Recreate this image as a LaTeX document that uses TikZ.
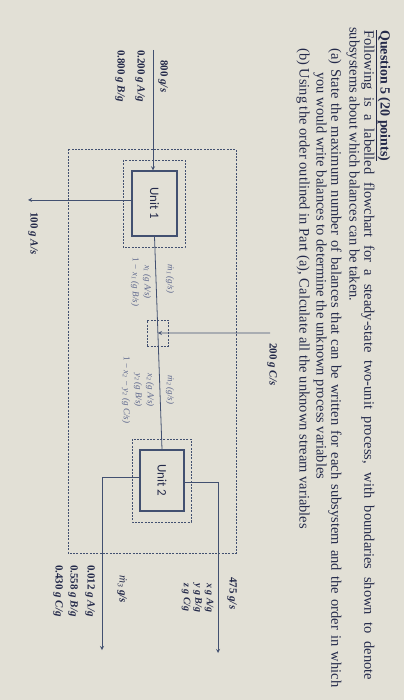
\documentclass[tikz,border=0pt]{standalone}
\usepackage{fontspec}
\setmainfont{Liberation Serif}
\newfontfamily\unitfont{Carlito}
\usetikzlibrary{calc}
\definecolor{paper}{RGB}{226,224,214}
\definecolor{ink}{RGB}{36,42,74}
\definecolor{wire}{RGB}{66,80,112}
\definecolor{faint}{RGB}{92,102,140}

\begin{document}
\begin{tikzpicture}[x=1pt,y=1pt]
    \tikzstyle{stream} = [->,>=stealth, line width=0.8pt, draw=wire]
    \tikzstyle{pipe} = [line width=0.8pt, draw=wire]
    \tikzstyle{bound} = [draw=wire, line width=0.6pt, dash pattern=on 2pt off 1.3pt]
    \tikzstyle{unitbox} = [rectangle, draw=wire, line width=1.3pt, rotate=-90,
        inner sep=0pt, text=ink, font=\unitfont\fontsize{13}{15}\selectfont]
    \tikzstyle{txt} = [rotate=-90, anchor=west, inner sep=0pt, text=ink,
        font=\fontsize{14.5}{15}\selectfont]
    \tikzstyle{flow} = [rotate=-90, anchor=west, inner sep=0pt, text=ink,
        font=\bfseries\fontsize{11}{13}\selectfont]
    \tikzstyle{comp} = [flow, font=\bfseries\fontsize{10}{12}\selectfont]
    \tikzstyle{var} = [rotate=-90, inner sep=0pt, text=faint, align=center,
        font=\itshape\fontsize{9}{12}\selectfont]

    \useasboundingbox (0,0) rectangle (404,-700);
    \fill[paper] (0,0) rectangle (404,-700);

    % question text
    \node(title) [txt, font=\fontsize{14}{15}\selectfont] at (383,-30)
        {\underline{\textbf{Question 5 (20 points)}}};
    \node(line1) [txt] at (368,-30)
        {\makebox[650pt][s]{Following is a labelled flowchart for a steady-state two-unit process, with boundaries shown to denote}};
    \node(line2) [txt] at (353,-27) {subsystems about which balances can be taken.};
    \node(parta) [txt] at (335,-48)
        {\makebox[639pt][s]{(a) State the maximum number of balances that can be written for each subsystem and the order in which}};
    \node(partb) [txt] at (320,-72) {you would write balances to determine the unknown process variables};
    \node(partc) [txt] at (303,-48) {(b) Using the order outlined in Part (a), Calculate all the unknown stream variables};

    % units and boundaries
    \draw[bound] (68,-149) rectangle (236,-553);
    \node(u1) [unitbox, minimum width=65pt, minimum height=45pt]
        at (154.5,-203.5) {Unit 1};
    \node(u2) [unitbox, minimum width=61pt, minimum height=44pt]
        at (162,-480.5) {Unit 2};
    \draw[bound] (123,-160) rectangle (185,-247);
    \draw[bound] (132,-439) rectangle (191,-522);
    \coordinate (mixpt) at ($(u1.east)!0.453!(u2.west)$);
    \node(mix) [bound, rectangle, minimum width=21pt, minimum height=26pt]
        at (mixpt) {};

    \coordinate (feedin) at (153,-50);
    \coordinate (aout) at (28,-200);
    \coordinate (cin) at (270,-333);
    \coordinate (topout) at (218,-653);
    \coordinate (botout) at (102,-650);

    \draw[stream] (feedin) -- (feedin |- u1.west);
    \draw[stream] (aout -| u1.south) -- (aout);
    \draw[pipe] (u1.east) -- (u2.west);
    \draw[stream] (cin) -- (mixpt);
    \draw[stream] ([yshift=-1.5pt]u2.north) -| (topout);
    \draw[stream] ([yshift=3.5pt]u2.south) -| (botout);

    % stream labels
    \node(feedq) [flow] at (163,-60) {800 \textit{g/s}};
    \node(feeda) [flow] at (140,-50) {0.200 \textit{g A/g}};
    \node(feedb) [flow] at (120,-50) {0.800 \textit{g B/g}};
    \node(aq) [flow] at (33,-212) {100 \textit{g A/s}};
    \node(cq) [flow] at (272,-343) {200 \textit{g C/s}};

    \node(m1) [var] at (170,-279) {\.{m}\textsubscript{1} (g/s)};
    \node(m1c) [var] at (141,-282)
        {x\textsubscript{1} (g A/s)\\{\upshape 1 −} x\textsubscript{1} (g B/s)};
    \node(m2) [var] at (170,-390) {\.{m}\textsubscript{2} (g/s)};
    \node(m2c) [var] at (138,-390)
        {x\textsubscript{2} (g A/s)\\y\textsubscript{2} (g B/s)\\{\upshape 1 −} x\textsubscript{2} − y\textsubscript{2} (g C/s)};

    \node(pq) [flow] at (232,-577) {475 \textit{g/s}};
    \node(pa) [comp] at (209,-583) {\textit{x g A/g}};
    \node(pb) [comp] at (197.5,-583) {\textit{y g B/g}};
    \node(pc) [comp] at (186,-583) {\textit{z g C/g}};

    \node(wq) [flow] at (122,-575) {{\mdseries\itshape\.{m}\textsubscript{3}} \textit{g/s}};
    \node(wa) [flow] at (90,-565) {0.012 \textit{g A/g}};
    \node(wb) [flow] at (73,-565) {0.558 \textit{g B/g}};
    \node(wc) [flow] at (58,-565) {0.430 \textit{g C/g}};
\end{tikzpicture}
\end{document}
